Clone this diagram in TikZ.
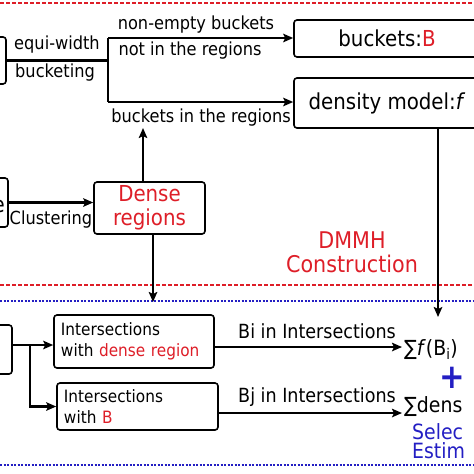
\documentclass[tikz,border=0pt]{standalone}
\usepackage{fontspec}
\setmainfont{DejaVu Sans Condensed}
\usepackage{tikz}
\usetikzlibrary{arrows,arrows.meta,shapes,positioning}
\definecolor{dmred}{RGB}{222,30,40}
\definecolor{dmblue}{RGB}{35,30,195}

\begin{document}
\begin{tikzpicture}[scale=0.0351459]
    \tikzstyle{every node}+=[inner sep=0pt]
    \tikzstyle{box}=[draw=black, line width=1.6pt, rounded corners=3pt, fill=white]
    \tikzstyle{flow}=[black, line width=2.6pt]
    \tikzstyle{arr}=[flow, -{Stealth[length=10pt,width=8.5pt,inset=2pt]}]
    \tikzstyle{lbl}=[font=\fontsize{18}{21}\selectfont]
    \tikzstyle{big}=[font=\fontsize{22}{24}\selectfont]
    \tikzstyle{inter}=[font=\fontsize{17}{21}\selectfont, align=left]
    \useasboundingbox (0,0) rectangle (474,-474);
    \clip (0,0) rectangle (474,-474);
    % borders between the two parts
    \draw [dmred, line width=1.9pt, dash pattern=on 3.5pt off 2.5pt] (0,-3) -- (474,-3);
    \draw [dmred, line width=1.9pt, dash pattern=on 3.5pt off 2.5pt] (0,-285) -- (474,-285);
    \draw [dmblue, line width=2.1pt, dash pattern=on 2pt off 1.5pt] (0,-301) -- (474,-301);
    \draw [dmblue, line width=2.1pt, dash pattern=on 2pt off 1.5pt] (0,-465) -- (474,-465);
    % construction
    \node [box, minimum width=60pt, minimum height=47pt] (grid) at (-24,-60.5) {};
    \node [box, big, minimum width=186pt, minimum height=37pt] (bkt) at (387,-38.5) {buckets:\textcolor{dmred}{B}};
    \node [box, big, minimum width=186pt, minimum height=50pt] (dens) at (387,-103) {density model:\textit{f}};
    \node [box, minimum width=60pt, minimum height=49pt] (smp) at (-22,-202.5) {};
    \node [big, anchor=east] (smpe) at (5,-206) {e};
    \node [box, big, minimum width=111pt, minimum height=52pt, align=center, text=dmred] (dense) at (149.5,-208) {Dense\\regions};
    \node [lbl] (ew) at (57,-45) {equi-width};
    \node [lbl] (bk) at (55,-73) {bucketing};
    \node [lbl] (ne) at (196,-25) {non-empty buckets};
    \node [lbl] (nr) at (190,-51) {not in the regions};
    \node [lbl] (br) at (201,-118) {buckets in the regions};
    \node [lbl] (cl) at (51,-220) {Clustering};
    \node [font=\fontsize{23}{24}\selectfont, text=dmred, align=center] (dmmh) at (352,-252) {DMMH\\Construction};
    \coordinate (split) at (108,-61);
    \coordinate (up) at (108,-38);
    \coordinate (down) at (108,-102);
    \coordinate (brtip) at (143,-128);
    \coordinate (dtip) at (153,-302);
    \coordinate (ftip) at (438,-317);
    \draw [flow] (grid.east) -- (grid.east -| split);
    \draw [flow] (up) -- (down);
    \draw [arr] (up) -- (up -| bkt.west);
    \draw [arr] (down) -- (down -| dens.west);
    \draw [arr] (smp.east) -- (smp.east -| dense.west);
    \draw [arr] (brtip |- dense.north) -- (brtip);
    \draw [arr] (dtip |- dense.south) -- (dtip);
    \draw [arr] (ftip |- dens.south) -- (ftip);
    % selectivity estimation
    \node [box, minimum width=62pt, minimum height=49pt] (qry) at (-19,-349.5) {};
    \node [box, inter, minimum width=160pt, minimum height=53pt, text width=146pt] (intd) at (134,-341.5) {Intersections\\with \textcolor{dmred}{dense region}};
    \node [box, inter, minimum width=161pt, minimum height=47pt, text width=147pt] (intb) at (137.5,-406.5) {Intersections\\with \textcolor{dmred}{B}};
    \node [font=\fontsize{19.5}{21}\selectfont] (bi) at (317,-331) {Bi in Intersections};
    \node [font=\fontsize{19.5}{21}\selectfont] (bj) at (317,-397) {Bj in Intersections};
    \node [font=\fontsize{21}{24}\selectfont, anchor=west] (sumf) at (404,-350) {∑\textit{f}(B\textsubscript{i})};
    \node [font=\fontsize{21}{24}\selectfont, anchor=west] (sumd) at (404,-407) {∑dens};
    \node [font=\fontsize{34}{34}\selectfont\bfseries, text=dmblue] (plus) at (452,-378) {+};
    \node [font=\fontsize{21}{19}\selectfont, text=dmblue, anchor=north west, align=left] (sel) at (412,-423) {Selec\\Estim};
    \coordinate (fork) at (30,-345);
    \coordinate (bitip) at (402,-347);
    \coordinate (bjtip) at (402,-413);
    \draw [flow] (qry.east |- fork) -- (fork);
    \draw [arr] (fork) -- (fork -| intd.west);
    \draw [arr] (fork) |- (intb.west);
    \draw [arr] (bitip -| intd.east) -- (bitip);
    \draw [arr] (bjtip -| intb.east) -- (bjtip);
\end{tikzpicture}
\end{document}
